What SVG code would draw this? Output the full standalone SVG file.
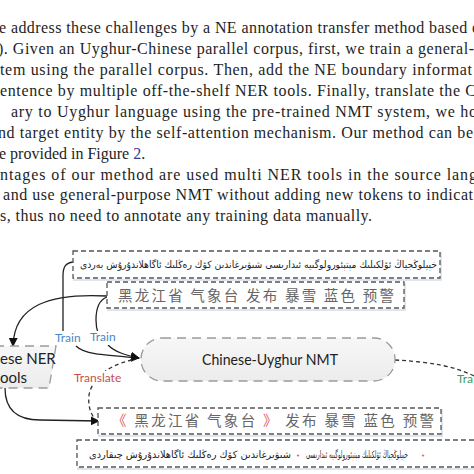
<svg xmlns="http://www.w3.org/2000/svg" width="474" height="474" viewBox="0 0 474 474">
<defs>
<style>
.para{font-family:"Liberation Serif","Times New Roman",serif;font-size:16px;fill:#1e1e1e}
.box{fill:#fff;stroke:#555;stroke-width:1.3;stroke-dasharray:5 3}
.shadow{fill:none;stroke:#dfe5ec;stroke-width:2}
.node{stroke:#9a9a9a;stroke-width:1.3;stroke-dasharray:9 6}
.ug{font-family:"DejaVu Sans",sans-serif;font-size:10px;fill:#222}
.zh{font-family:"Noto Sans CJK SC",sans-serif;font-size:14.5px;fill:#666}
.lbl{font-family:Lato,"Liberation Sans",sans-serif;font-size:12px}
.conn{fill:none;stroke:#222;stroke-width:1.3}
.dash{fill:none;stroke:#333;stroke-width:1.3;stroke-dasharray:4 3}
.red{fill:#e06060}
</style>
<marker id="ah" viewBox="0 0 10 10" refX="9" refY="5" markerWidth="9" markerHeight="9" markerUnits="userSpaceOnUse" orient="auto">
<path d="M0,0 L10,5 L0,10 z" fill="#111"/>
</marker>
<linearGradient id="ng" x1="0" y1="0" x2="0" y2="1">
<stop offset="0" stop-color="#f7f7f7"/>
<stop offset="1" stop-color="#ececec"/>
</linearGradient>
</defs>
<rect width="474" height="474" fill="#fff"/>

<g id="paragraph" class="para">
<text x="-1" y="33" textLength="481" lengthAdjust="spacing">e address these challenges by a NE annotation transfer method based o</text>
<text x="-2" y="54" textLength="476" lengthAdjust="spacing">). Given an Uyghur-Chinese parallel corpus, first, we train a general-</text>
<text x="0" y="75" textLength="472" lengthAdjust="spacing">tem using the parallel corpus.  Then, add the NE boundary informat</text>
<text x="0" y="96" textLength="476" lengthAdjust="spacing">entence by multiple off-the-shelf NER tools.  Finally, translate the C</text>
<text x="11" y="117" textLength="466" lengthAdjust="spacing">ary to Uyghur language using the pre-trained NMT system, we ho</text>
<text x="-2" y="138" textLength="475" lengthAdjust="spacing">nd target entity by the self-attention mechanism. Our method can be</text>
<text x="-1" y="159">e provided in Figure <tspan fill="#3a3a8c">2</tspan>.</text>
<text x="0" y="180" textLength="477" lengthAdjust="spacing">ntages of our method are used multi NER tools in the source lang</text>
<text x="3" y="200" textLength="470" lengthAdjust="spacing">and use general-purpose NMT without adding new tokens to indicat</text>
<text x="0" y="221" textLength="372" lengthAdjust="spacing">s, thus no need to annotate any training data manually.</text>
</g>

<g id="connectors">
<path class="conn" d="M73,262 C66,263 63,266 63,276 L63,331"/>
<path class="conn" d="M76,346 C84,354 100,355 139,358" marker-end="url(#ah)"/>
<path class="conn" d="M107,297 C99,300 96,309 96,320 C96,327 97,330 98,333"/>
<path class="conn" d="M108,345 C115,352 125,355 139,358" marker-end="url(#ah)"/>
<path class="conn" d="M107,296 C50,293 14,305 13,346" marker-end="url(#ah)"/>
<path class="conn" d="M5,388 C5,405 12,420 40,420 L99,421" marker-end="url(#ah)"/>
<path class="dash" d="M132,360 C105,366 92,380 89,395 C88,405 90,413 95,419"/>
<path class="dash" d="M395,360 C430,362 455,366 476,377"/>
<rect x="53" y="331" width="31" height="14" fill="#fff"/>
<text class="lbl" x="55" y="342" fill="#4a86c5">Train</text>
<rect x="88" y="331" width="31" height="14" fill="#fff"/>
<text class="lbl" x="90" y="341" fill="#4a86c5">Train</text>
<rect x="72" y="371" width="52" height="14" fill="#fff"/>
<text class="lbl" x="74" y="382" fill="#c0504d">Translate</text>
<text class="lbl" x="457" y="383" fill="#3a9a5c">Tra</text>
</g>

<g id="uyghur-top">
<rect class="shadow" x="74" y="253" width="367" height="27"/>
<rect class="box" x="73" y="251" width="367" height="27"/>
<text class="ug" x="258.5" y="268" text-anchor="middle" direction="rtl" textLength="357" lengthAdjust="spacingAndGlyphs">خېيلوڭجياڭ ئۆلكىلىك مېتېئورولوگىيە ئىدارىسى شىۋىرغاندىن كۆك رەڭلىك ئاگاھلاندۇرۇش بەردى</text>
</g>

<g id="chinese-top">
<rect class="shadow" x="108" y="284" width="297" height="26"/>
<rect class="box" x="107" y="282" width="297" height="26"/>
<text class="zh" x="118" y="301" textLength="276" lengthAdjust="spacing">黑龙江省 气象台 发布 暴雪 蓝色 预警</text>
</g>

<g id="ner-tools">
<polygon points="-20,346 56,346 49,388 -27,388" fill="url(#ng)" class="node"/>
<text x="0" y="364" font-family="Lato,'Liberation Sans',sans-serif" font-size="15" fill="#222">ese NER</text>
<text x="0" y="383" font-family="Lato,'Liberation Sans',sans-serif" font-size="15" fill="#222">ools</text>
</g>

<g id="nmt">
<rect x="141" y="338" width="254" height="43" rx="21" fill="url(#ng)" class="node"/>
<text x="202" y="365" font-family="Lato,'Liberation Sans',sans-serif" font-size="16" fill="#222" textLength="136" lengthAdjust="spacingAndGlyphs">Chinese-Uyghur NMT</text>
</g>

<g id="chinese-bottom">
<rect class="shadow" x="99" y="410" width="343" height="26"/>
<rect class="box" x="98" y="408" width="343" height="26"/>
<text class="zh" x="112" y="426" textLength="322" lengthAdjust="spacing"><tspan class="red">《</tspan> 黑龙江省 气象台 <tspan class="red">》</tspan> 发布 暴雪 蓝色 预警</text>
</g>

<g id="uyghur-bottom">
<rect class="shadow" x="78" y="442" width="410" height="27"/>
<rect class="box" x="77" y="440" width="410" height="27"/>
<text class="ug" x="190" y="458" text-anchor="middle" direction="rtl" textLength="202" lengthAdjust="spacingAndGlyphs">شىۋىرغاندىن كۆك رەڭلىك ئاگاھلاندۇرۇش چىقاردى</text>
<text class="red" x="298" y="458" text-anchor="middle" font-family="DejaVu Sans,sans-serif" font-size="7">•</text>
<text class="ug" x="357" y="458" text-anchor="middle" direction="rtl" textLength="102" lengthAdjust="spacingAndGlyphs">خېيلوڭجياڭ ئۆلكىلىك مېتېئورولوگىيە ئىدارىسى</text>
<text class="red" x="423" y="458" text-anchor="middle" font-family="DejaVu Sans,sans-serif" font-size="7">•</text>
</g>
</svg>
